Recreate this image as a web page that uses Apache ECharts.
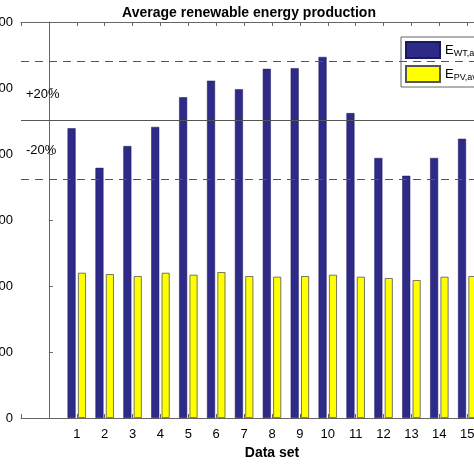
<!DOCTYPE html>
<html>
<head>
<meta charset="utf-8">
<script src="https://cdn.jsdelivr.net/npm/echarts@6/dist/echarts.min.js"></script>
</head>
<body style="margin:0;background:#fff;">
<div id="chart" style="width:474px;height:474px;"></div>
<script type="text/javascript">
	// data
	var dataSets = [1, 2, 3, 4, 5, 6, 7, 8, 9, 10, 11, 12, 13, 14, 15];
	var wtValues = [439, 379, 412, 441, 486, 511, 498, 529, 530, 547, 462, 394, 367, 394, 423];
	var pvValues = [220, 218, 215, 220, 217, 221, 215, 214, 215, 217, 214, 212, 209, 214, 215];
	var meanLine = 451;
	var upperLine = 541;
	var lowerLine = 361;

	var chart = echarts.init(document.getElementById('chart'));
	var font = 'Arial, "Liberation Sans", sans-serif';

	option = {
		animation: false,
		title: {
			text: 'Average renewable energy production',
			left: 244, textAlign: 'center', top: 1,
			textStyle: {fontFamily: font, fontSize: 14, fontWeight: 'bold', color: '#000'}
		},
		legend: {
			orient: 'vertical',
			left: 401, top: 37,
			backgroundColor: '#fff',
			borderColor: '#666', borderWidth: 1, borderRadius: 0,
			padding: [4, 6, 4, 4],
			icon: 'rect',
			itemWidth: 34, itemHeight: 16, itemGap: 6,
			textStyle: {fontFamily: font, fontSize: 13, color: '#000',
				rich: {s: {fontSize: 9, verticalAlign: 'bottom', padding: [8, 0, 0, 0]}}},
			formatter: function (name) {
				return name == 'WT' ? 'E{s|WT,avg}' : 'E{s|PV,avg}';
			},
			data: ['WT', 'PV']
		},
		grid: {left: 21, right: -49, top: 22, bottom: 56, outerBoundsMode: 'none', containLabel: false},
		xAxis: [{
			type: 'value', min: -1, max: 17, interval: 1,
			name: 'Data set', nameLocation: 'middle', nameGap: 28,
			nameTextStyle: {fontFamily: font, fontSize: 14, fontWeight: 'bold', color: '#000'},
			axisLine: {lineStyle: {color: '#666'}},
			axisTick: {inside: true, length: 4, lineStyle: {color: '#666'}},
			axisLabel: {fontFamily: font, fontSize: 13, color: '#000', margin: 10,
				formatter: function (v) { return (v >= 1 && v <= 15) ? v : ''; }},
			splitLine: {show: false}
		}, {
			type: 'value', position: 'top', min: -1, max: 17, interval: 1,
			axisLine: {show: true, lineStyle: {color: '#666'}},
			axisTick: {show: true, inside: true, length: 4, lineStyle: {color: '#666'}},
			axisLabel: {show: false},
			splitLine: {show: false}
		}],
		yAxis: {
			type: 'value', min: 0, max: 600, interval: 100,
			axisLine: {show: true, lineStyle: {color: '#666'}},
			axisTick: {show: true, inside: true, length: 4},
			axisLabel: {fontFamily: font, fontSize: 13, color: '#000'},
			splitLine: {show: false}
		},
		series: [
			{
				name: 'WT', type: 'bar', barWidth: 8, barGap: '30%',
				itemStyle: {color: '#2E2A87', borderColor: '#1a1860', borderWidth: 0.5},
				data: dataSets.map(function (d, i) { return [d, wtValues[i]]; }),
				markLine: {
					symbol: 'none', silent: true,
					data: [
						{yAxis: upperLine, lineStyle: {type: [8, 6], color: '#555', width: 1},
							label: {show: true, position: 'insideStartBottom', formatter: '+20%', color: '#000', fontFamily: font, fontSize: 13, offset: [0, 22]}},
						{yAxis: meanLine, lineStyle: {type: 'solid', color: '#555', width: 1}, label: {show: false}},
						{yAxis: lowerLine, lineStyle: {type: [8, 6], color: '#555', width: 1},
							label: {show: true, position: 'insideStartTop', formatter: '-20%', color: '#000', fontFamily: font, fontSize: 13, offset: [0, -18]}}
					]
				}
			},
			{
				name: 'PV', type: 'bar', barWidth: 8,
				itemStyle: {color: '#FFFF00', borderColor: '#555', borderWidth: 0.8},
				data: dataSets.map(function (d, i) { return [d, pvValues[i]]; })
			}
		]
	};
	chart.setOption(option);
</script>
</body>
</html>
